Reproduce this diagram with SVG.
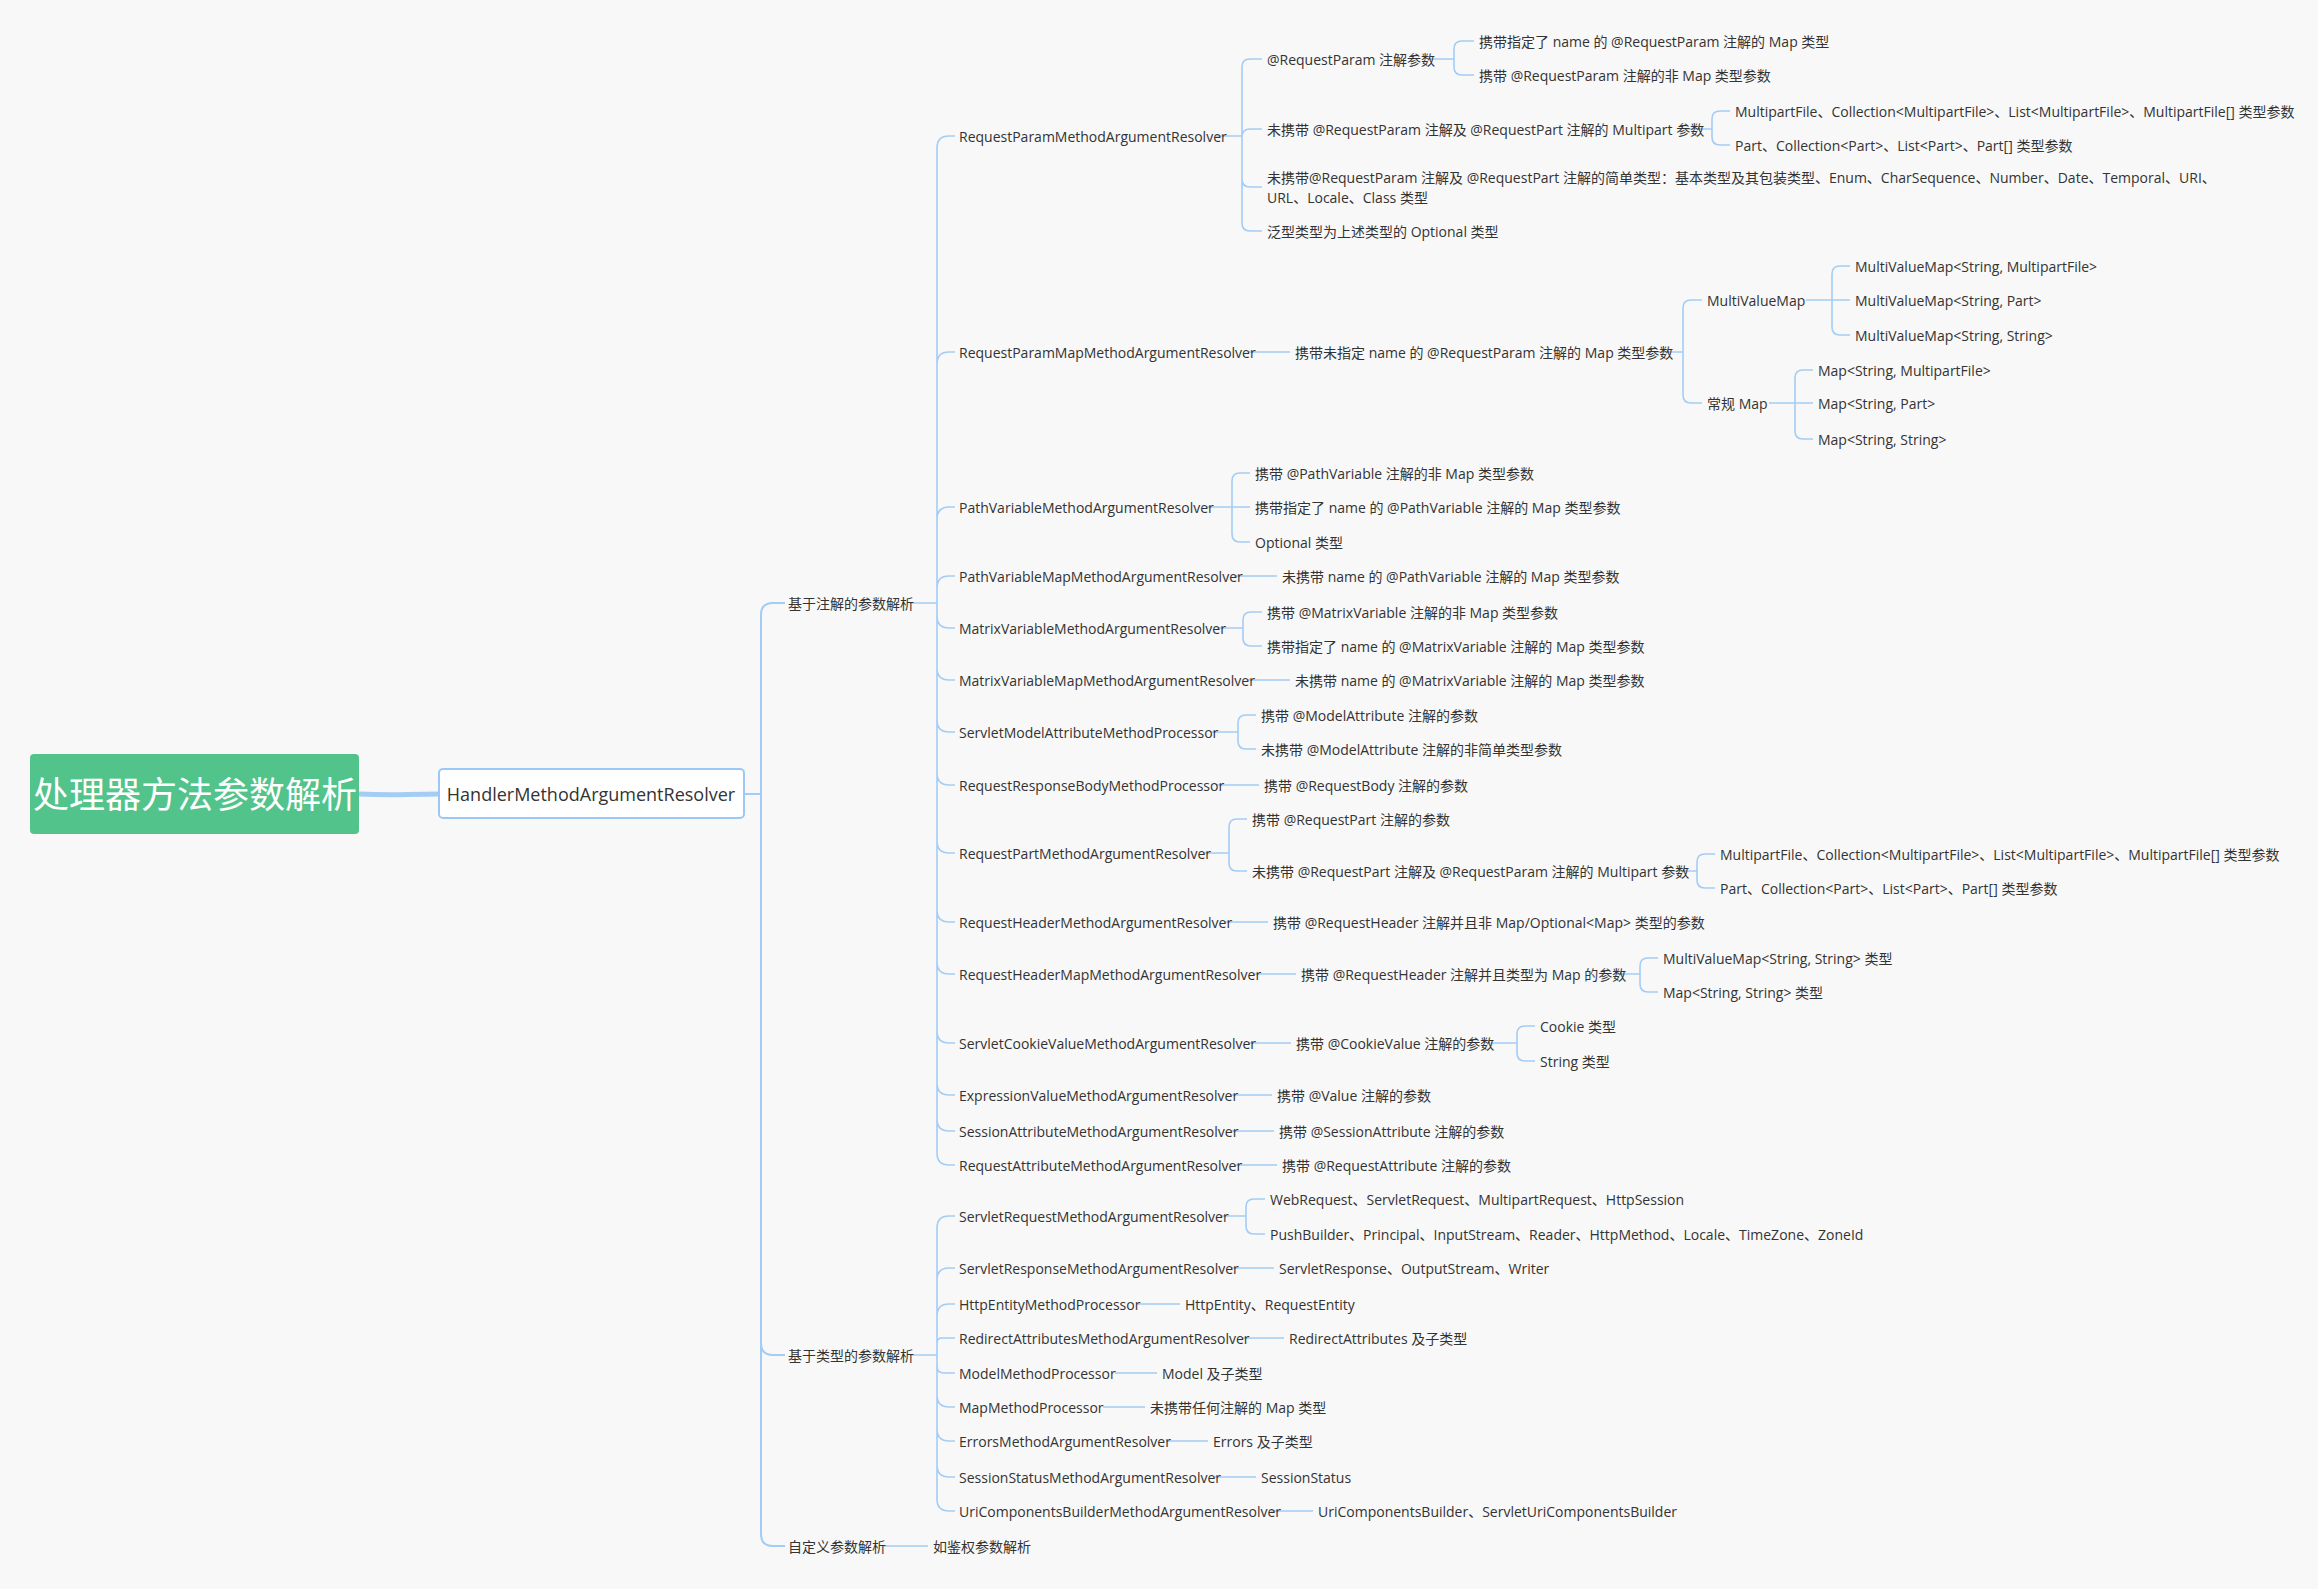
<svg xmlns="http://www.w3.org/2000/svg" width="2318" height="1589" viewBox="0 0 2318 1589">
<style>
text{font-family:"Open Sans","Noto Sans CJK SC",sans-serif;font-size:14px;fill:#333;dominant-baseline:central}
.c path{fill:none;stroke:#a3cdf5;stroke-width:1.6}
.root{font-size:36px;fill:#fff;text-anchor:middle}
.h{font-size:18px;text-anchor:middle}
</style>
<rect width="2318" height="1589" fill="#f8f8f8"/>
<g class="c" id="connectors">
<path d="M359 794 C400 796 400 794 439 794" style="stroke-width:5"/>
<path d="M744 794 H761 M761 794 V615 Q761 603 773 603 H785 M761 794 V1343 Q761 1355 773 1355 H785 M761 794 V1534 Q761 1546 773 1546 H785" style="stroke-width:2"/>
<path d="M910 603 H937 M937 603 V148 Q937 136 949 136 H955 M937 603 V364 Q937 352 949 352 H955 M937 603 V519 Q937 507 949 507 H955 M937 603 V588 Q937 576 949 576 H955 M937 603 V616 Q937 628 949 628 H955 M937 603 V668 Q937 680 949 680 H955 M937 603 V720 Q937 732 949 732 H955 M937 603 V773 Q937 785 949 785 H955 M937 603 V841 Q937 853 949 853 H955 M937 603 V910 Q937 922 949 922 H955 M937 603 V962 Q937 974 949 974 H955 M937 603 V1031 Q937 1043 949 1043 H955 M937 603 V1083 Q937 1095 949 1095 H955 M937 603 V1119 Q937 1131 949 1131 H955 M937 603 V1153 Q937 1165 949 1165 H955"/>
<path d="M910 1355 H937 M937 1355 V1228 Q937 1216 949 1216 H955 M937 1355 V1280 Q937 1268 949 1268 H955 M937 1355 V1316 Q937 1304 949 1304 H955 M937 1355 V1343 Q937 1338 942 1338 H955 M937 1355 V1366 Q937 1373 944 1373 H955 M937 1355 V1395 Q937 1407 949 1407 H955 M937 1355 V1429 Q937 1441 949 1441 H955 M937 1355 V1465 Q937 1477 949 1477 H955 M937 1355 V1499 Q937 1511 949 1511 H955"/>
<path d="M884 1546 H928"/>
<path d="M1216 136 H1242 M1242 136 V67 Q1242 59 1250 59 H1262 M1242 136 V137 Q1242 129 1250 129 H1262 M1242 136 V179 Q1242 187 1250 187 H1262 M1242 136 V223 Q1242 231 1250 231 H1262"/>
<path d="M1429 59 H1454 M1454 59 V49 Q1454 41 1462 41 H1474 M1454 59 V67 Q1454 75 1462 75 H1474"/>
<path d="M1686 129 H1712 M1712 129 V119 Q1712 111 1720 111 H1730 M1712 129 V137 Q1712 145 1720 145 H1730"/>
<path d="M1248 352 H1290"/>
<path d="M1656 352 H1683 M1683 352 V308 Q1683 300 1691 300 H1702 M1683 352 V395 Q1683 403 1691 403 H1702"/>
<path d="M1806 300 H1832 M1832 300 V274 Q1832 266 1840 266 H1850 M1832 300 H1850 M1832 300 V327 Q1832 335 1840 335 H1850"/>
<path d="M1769 403 H1795 M1795 403 V378 Q1795 370 1803 370 H1813 M1795 403 H1813 M1795 403 V431 Q1795 439 1803 439 H1813"/>
<path d="M1206 507 H1232 M1232 507 V481 Q1232 473 1240 473 H1250 M1232 507 H1250 M1232 507 V534 Q1232 542 1240 542 H1250"/>
<path d="M1234 576 H1277"/>
<path d="M1217 628 H1243 M1243 628 V620 Q1243 612 1251 612 H1262 M1243 628 V638 Q1243 646 1251 646 H1262"/>
<path d="M1248 680 H1290"/>
<path d="M1212 732 H1238 M1238 732 V723 Q1238 715 1246 715 H1256 M1238 732 V741 Q1238 749 1246 749 H1256"/>
<path d="M1216 785 H1259"/>
<path d="M1203 853 H1229 M1229 853 V827 Q1229 819 1237 819 H1247 M1229 853 V863 Q1229 871 1237 871 H1247"/>
<path d="M1671 871 H1697 M1697 871 V862 Q1697 854 1705 854 H1715 M1697 871 V880 Q1697 888 1705 888 H1715"/>
<path d="M1225 922 H1268"/>
<path d="M1253 974 H1296"/>
<path d="M1614 974 H1640 M1640 974 V966 Q1640 958 1648 958 H1658 M1640 974 V984 Q1640 992 1648 992 H1658"/>
<path d="M1249 1043 H1291"/>
<path d="M1491 1043 H1517 M1517 1043 V1034 Q1517 1026 1525 1026 H1535 M1517 1043 V1053 Q1517 1061 1525 1061 H1535"/>
<path d="M1230 1095 H1272"/>
<path d="M1231 1131 H1274"/>
<path d="M1234 1165 H1277"/>
<path d="M1220 1216 H1246 M1246 1216 V1207 Q1246 1199 1254 1199 H1265 M1246 1216 V1226 Q1246 1234 1254 1234 H1265"/>
<path d="M1231 1268 H1274"/>
<path d="M1138 1304 H1180"/>
<path d="M1242 1338 H1284"/>
<path d="M1115 1373 H1157"/>
<path d="M1103 1407 H1145"/>
<path d="M1166 1441 H1208"/>
<path d="M1214 1477 H1256"/>
<path d="M1271 1511 H1313"/>
</g>
<g id="root"><rect x="30" y="754" width="329" height="80" rx="4" fill="#52c48b"/><text class="root" x="195" y="794">处理器方法参数解析</text></g>
<g id="handler"><rect x="439" y="769" width="305" height="49" rx="4" fill="#fff" stroke="#9cc8f5" stroke-width="2"/><text class="h" x="591" y="794">HandlerMethodArgumentResolver</text></g>
<g id="l1">
<text x="788" y="603">基于注解的参数解析</text>
<text x="788" y="1355">基于类型的参数解析</text>
<text x="788" y="1546">自定义参数解析</text>
<text x="933" y="1546">如鉴权参数解析</text>
</g>
<g id="l2">
<text x="959" y="136">RequestParamMethodArgumentResolver</text>
<text x="959" y="352">RequestParamMapMethodArgumentResolver</text>
<text x="959" y="507">PathVariableMethodArgumentResolver</text>
<text x="959" y="576">PathVariableMapMethodArgumentResolver</text>
<text x="959" y="628">MatrixVariableMethodArgumentResolver</text>
<text x="959" y="680">MatrixVariableMapMethodArgumentResolver</text>
<text x="959" y="732">ServletModelAttributeMethodProcessor</text>
<text x="959" y="785">RequestResponseBodyMethodProcessor</text>
<text x="959" y="853">RequestPartMethodArgumentResolver</text>
<text x="959" y="922">RequestHeaderMethodArgumentResolver</text>
<text x="959" y="974">RequestHeaderMapMethodArgumentResolver</text>
<text x="959" y="1043">ServletCookieValueMethodArgumentResolver</text>
<text x="959" y="1095">ExpressionValueMethodArgumentResolver</text>
<text x="959" y="1131">SessionAttributeMethodArgumentResolver</text>
<text x="959" y="1165">RequestAttributeMethodArgumentResolver</text>
<text x="959" y="1216">ServletRequestMethodArgumentResolver</text>
<text x="959" y="1268">ServletResponseMethodArgumentResolver</text>
<text x="959" y="1304">HttpEntityMethodProcessor</text>
<text x="959" y="1338">RedirectAttributesMethodArgumentResolver</text>
<text x="959" y="1373">ModelMethodProcessor</text>
<text x="959" y="1407">MapMethodProcessor</text>
<text x="959" y="1441">ErrorsMethodArgumentResolver</text>
<text x="959" y="1477">SessionStatusMethodArgumentResolver</text>
<text x="959" y="1511">UriComponentsBuilderMethodArgumentResolver</text>
</g>
<g id="l3">
<text x="1267" y="59">@RequestParam 注解参数</text>
<text x="1267" y="129">未携带 @RequestParam 注解及 @RequestPart 注解的 Multipart 参数</text>
<text x="1267" y="177">未携带@RequestParam 注解及 @RequestPart 注解的简单类型：基本类型及其包装类型、Enum、CharSequence、Number、Date、Temporal、URI、</text>
<text x="1267" y="197">URL、Locale、Class 类型</text>
<text x="1267" y="231">泛型类型为上述类型的 Optional 类型</text>
<text x="1479" y="41">携带指定了 name 的 @RequestParam 注解的 Map 类型</text>
<text x="1479" y="75">携带 @RequestParam 注解的非 Map 类型参数</text>
<text x="1735" y="111">MultipartFile、Collection&lt;MultipartFile&gt;、List&lt;MultipartFile&gt;、MultipartFile[] 类型参数</text>
<text x="1735" y="145">Part、Collection&lt;Part&gt;、List&lt;Part&gt;、Part[] 类型参数</text>
<text x="1295" y="352">携带未指定 name 的 @RequestParam 注解的 Map 类型参数</text>
<text x="1707" y="300">MultiValueMap</text>
<text x="1707" y="403">常规 Map</text>
<text x="1855" y="266">MultiValueMap&lt;String, MultipartFile&gt;</text>
<text x="1855" y="300">MultiValueMap&lt;String, Part&gt;</text>
<text x="1855" y="335">MultiValueMap&lt;String, String&gt;</text>
<text x="1818" y="370">Map&lt;String, MultipartFile&gt;</text>
<text x="1818" y="403">Map&lt;String, Part&gt;</text>
<text x="1818" y="439">Map&lt;String, String&gt;</text>
<text x="1255" y="473">携带 @PathVariable 注解的非 Map 类型参数</text>
<text x="1255" y="507">携带指定了 name 的 @PathVariable 注解的 Map 类型参数</text>
<text x="1255" y="542">Optional 类型</text>
<text x="1282" y="576">未携带 name 的 @PathVariable 注解的 Map 类型参数</text>
<text x="1267" y="612">携带 @MatrixVariable 注解的非 Map 类型参数</text>
<text x="1267" y="646">携带指定了 name 的 @MatrixVariable 注解的 Map 类型参数</text>
<text x="1295" y="680">未携带 name 的 @MatrixVariable 注解的 Map 类型参数</text>
<text x="1261" y="715">携带 @ModelAttribute 注解的参数</text>
<text x="1261" y="749">未携带 @ModelAttribute 注解的非简单类型参数</text>
<text x="1264" y="785">携带 @RequestBody 注解的参数</text>
<text x="1252" y="819">携带 @RequestPart 注解的参数</text>
<text x="1252" y="871">未携带 @RequestPart 注解及 @RequestParam 注解的 Multipart 参数</text>
<text x="1720" y="854">MultipartFile、Collection&lt;MultipartFile&gt;、List&lt;MultipartFile&gt;、MultipartFile[] 类型参数</text>
<text x="1720" y="888">Part、Collection&lt;Part&gt;、List&lt;Part&gt;、Part[] 类型参数</text>
<text x="1273" y="922">携带 @RequestHeader 注解并且非 Map/Optional&lt;Map&gt; 类型的参数</text>
<text x="1301" y="974">携带 @RequestHeader 注解并且类型为 Map 的参数</text>
<text x="1663" y="958">MultiValueMap&lt;String, String&gt; 类型</text>
<text x="1663" y="992">Map&lt;String, String&gt; 类型</text>
<text x="1296" y="1043">携带 @CookieValue 注解的参数</text>
<text x="1540" y="1026">Cookie 类型</text>
<text x="1540" y="1061">String 类型</text>
<text x="1277" y="1095">携带 @Value 注解的参数</text>
<text x="1279" y="1131">携带 @SessionAttribute 注解的参数</text>
<text x="1282" y="1165">携带 @RequestAttribute 注解的参数</text>
<text x="1270" y="1199">WebRequest、ServletRequest、MultipartRequest、HttpSession</text>
<text x="1270" y="1234">PushBuilder、Principal、InputStream、Reader、HttpMethod、Locale、TimeZone、ZoneId</text>
<text x="1279" y="1268">ServletResponse、OutputStream、Writer</text>
<text x="1185" y="1304">HttpEntity、RequestEntity</text>
<text x="1289" y="1338">RedirectAttributes 及子类型</text>
<text x="1162" y="1373">Model 及子类型</text>
<text x="1150" y="1407">未携带任何注解的 Map 类型</text>
<text x="1213" y="1441">Errors 及子类型</text>
<text x="1261" y="1477">SessionStatus</text>
<text x="1318" y="1511">UriComponentsBuilder、ServletUriComponentsBuilder</text>
</g>
</svg>
